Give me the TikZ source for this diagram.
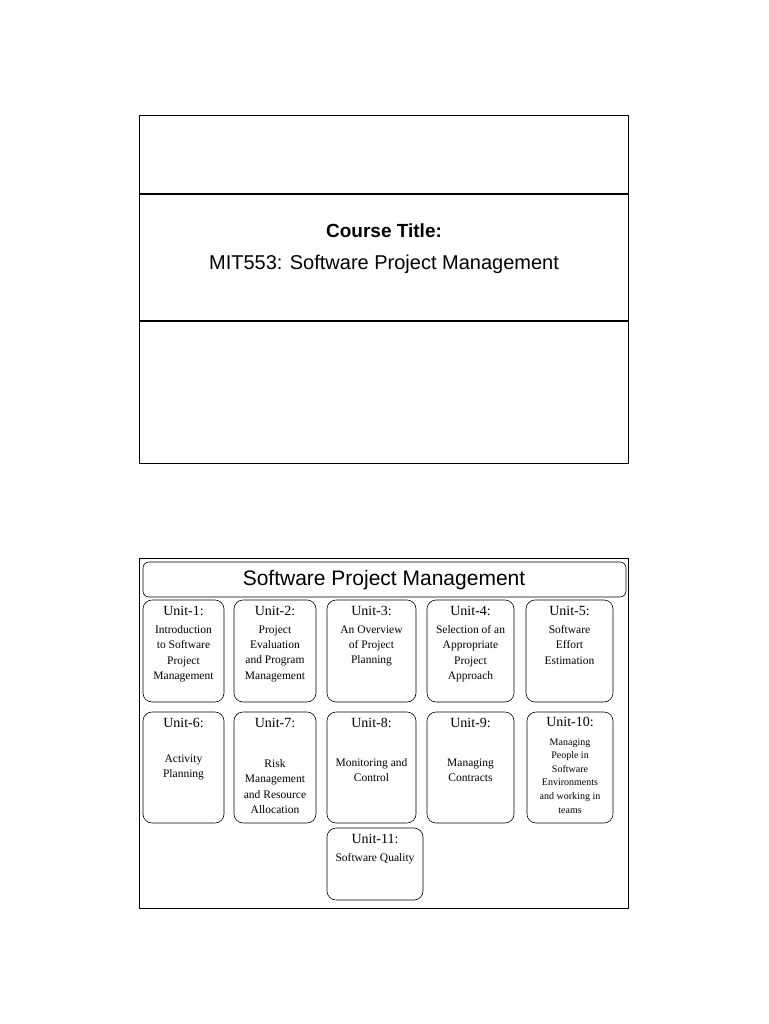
\documentclass[tikz,border=0pt]{standalone}
\usepackage{fontspec}
\setmainfont{Liberation Serif}
\newfontfamily\arialf{Liberation Sans}
\begin{document}
\begin{tikzpicture}[x=1pt,y=-1pt,
  unit/.style={draw,rounded corners=9pt,line width=0.6pt,anchor=north west,inner sep=0pt},
  hd/.style={font=\fontsize{14}{16}\selectfont,anchor=north},
  bd/.style={font=\fontsize{11.5}{15.3}\selectfont,align=center,anchor=north}]
\useasboundingbox (0,0) rectangle (768,1024);
% top slide
\draw[line width=0.8pt] (139,115) rectangle (628,463);
\draw[line width=1.6pt] (139,194) -- (628,194);
\draw[line width=1.6pt] (139,321) -- (628,321);
\node (ct) at (384,231) {\arialf\bfseries\fontsize{19}{22}\selectfont Course Title:};
\node (mt) at (384,264) {\arialf\fontsize{20}{24}\selectfont MIT553: Software Project Management};
% bottom slide
\draw[line width=0.8pt] (139,558) rectangle (628,908);
\draw[rounded corners=6pt,line width=0.6pt] (143,562) rectangle (626,597);
\node (spm) at (384,580) {\arialf\fontsize{21}{24}\selectfont Software Project Management};
\newcommand\ubox[8]{%
  \draw[rounded corners=9pt,line width=0.6pt] (#1,#2) rectangle (#3,#4);
  \node[hd] (#5h) at ({(#1+#3)/2},{#2+3}) {#6};
  \node[bd] (#5b) at ({(#1+#3)/2},{#2+#7}) {#8};}
\ubox{143}{600}{224}{702}{u1}{Unit-1:}{22}{Introduction\\to Software\\Project\\Management}
\ubox{234}{600}{316}{702}{u2}{Unit-2:}{22}{Project\\Evaluation\\and Program\\Management}
\ubox{327}{600}{416}{702}{u3}{Unit-3:}{22}{An Overview\\of Project\\Planning}
\ubox{427}{600}{514}{702}{u4}{Unit-4:}{22}{Selection of an\\Appropriate\\Project\\Approach}
\ubox{526}{600}{613}{702}{u5}{Unit-5:}{22}{Software\\Effort\\Estimation}
\ubox{143}{712}{224}{823}{u6}{Unit-6:}{39}{Activity\\Planning}
\ubox{234}{712}{316}{823}{u7}{Unit-7:}{44}{Risk\\Management\\and Resource\\Allocation}
\ubox{327}{712}{416}{823}{u8}{Unit-8:}{43}{Monitoring and\\Control}
\ubox{427}{712}{514}{823}{u9}{Unit-9:}{43}{Managing\\Contracts}
\draw[rounded corners=9pt,line width=0.6pt] (527,712) rectangle (613,823);
\node[hd] (u10h) at (570,714) {Unit-10:};
\node[align=center,anchor=north,font=\fontsize{10}{13.6}\selectfont] (u10b) at (570,735) {Managing\\People in\\Software\\Environments\\and working in\\teams};
\ubox{327}{828}{423}{900}{u11}{Unit-11:}{22}{Software Quality}
\end{tikzpicture}
\end{document}
